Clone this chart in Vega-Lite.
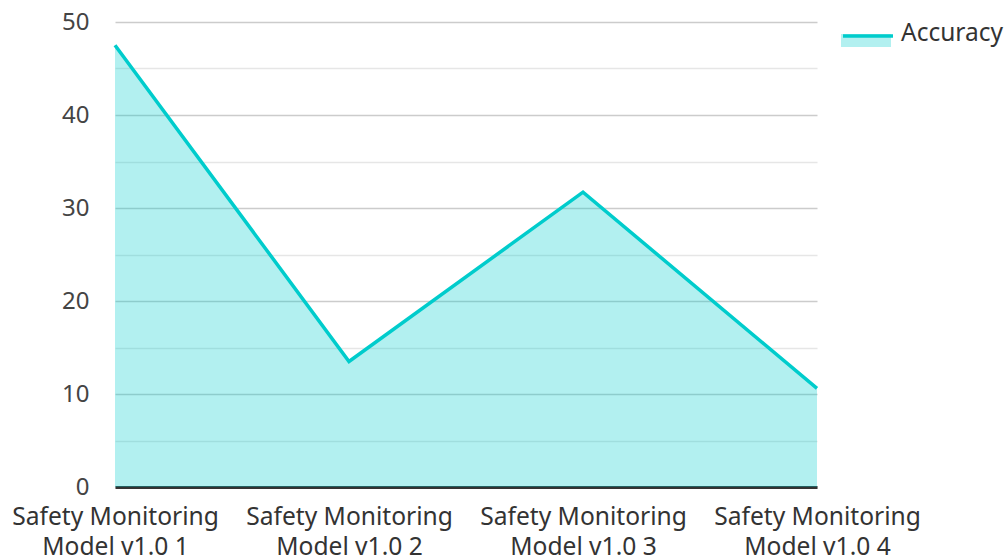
{
  "$schema": "https://vega.github.io/schema/vega-lite/v6.json",
  "autosize": {"type": "none"},
  "padding": {"left": 115, "top": 22, "right": 190, "bottom": 73},
  "width": 702,
  "height": 465,
  "background": "white",
  "config": {
    "view": {"stroke": null},
    "font": "Noto Sans"
  },
  "data": {
    "values": [
      {"model": "Safety Monitoring Model v1.0 1", "accuracy": 47.5, "series": "Accuracy"},
      {"model": "Safety Monitoring Model v1.0 2", "accuracy": 13.5, "series": "Accuracy"},
      {"model": "Safety Monitoring Model v1.0 3", "accuracy": 31.7, "series": "Accuracy"},
      {"model": "Safety Monitoring Model v1.0 4", "accuracy": 10.6, "series": "Accuracy"}
    ]
  },
  "encoding": {
    "x": {
      "field": "model",
      "type": "ordinal",
      "scale": {"type": "point", "padding": 0},
      "axis": {
        "title": null,
        "labelAngle": 0,
        "labelExpr": "[slice(datum.label, 0, 17), slice(datum.label, 18)]",
        "labelFontSize": 24.6,
        "labelColor": "#333333",
        "labelLineHeight": 30,
        "labelPadding": 18,
        "labelLimit": 0,
        "labelOverlap": false,
        "labelBound": false,
        "labelFlush": false,
        "ticks": false,
        "domainColor": "#333333",
        "domainWidth": 3,
        "grid": false
      }
    },
    "y": {
      "field": "accuracy",
      "type": "quantitative",
      "scale": {"domain": [0, 50], "nice": false},
      "axis": {
        "title": null,
        "values": [0, 5, 10, 15, 20, 25, 30, 35, 40, 45, 50],
        "labelExpr": "datum.value % 10 === 0 ? datum.label : ''",
        "labelFontSize": 24,
        "labelColor": "#444444",
        "labelPadding": 26,
        "labelOverlap": false,
        "labelFlush": false,
        "ticks": false,
        "domain": false,
        "gridColor": {"condition": {"test": "datum.value % 10 === 0", "value": "#cccccc"}, "value": "#e6e6e6"},
        "gridWidth": 1.3
      }
    }
  },
  "layer": [
    {
      "mark": {"type": "area", "opacity": 0.3},
      "encoding": {
        "fill": {
          "field": "series",
          "type": "nominal",
          "scale": {"range": ["#00cccc"]},
          "legend": {
            "title": null,
            "orient": "none",
            "legendX": 726,
            "legendY": -13,
            "padding": 0,
            "symbolType": "M-1,0 H1 V0.52 H-1 Z",
            "symbolSize": 2500,
            "symbolOpacity": 0.3,
            "symbolStrokeWidth": 0,
            "labelFontSize": 24.5,
            "labelColor": "#333333",
            "labelOffset": 10,
            "labelLimit": 0
          }
        }
      }
    },
    {
      "mark": {"type": "line", "strokeWidth": 3.5, "color": "#00cccc"},
      "encoding": {
        "stroke": {
          "field": "series",
          "type": "nominal",
          "scale": {"domain": ["Accuracy"], "range": ["#00cccc"]},
          "legend": {
            "title": null,
            "orient": "none",
            "legendX": 726,
            "legendY": -13,
            "padding": 0,
            "symbolType": "M-1,0 H1",
            "symbolSize": 2500,
            "symbolStrokeWidth": 3.5,
            "labelFontSize": 24.5,
            "labelColor": "transparent",
            "labelOffset": 10,
            "labelLimit": 0
          }
        }
      }
    }
  ]
}
